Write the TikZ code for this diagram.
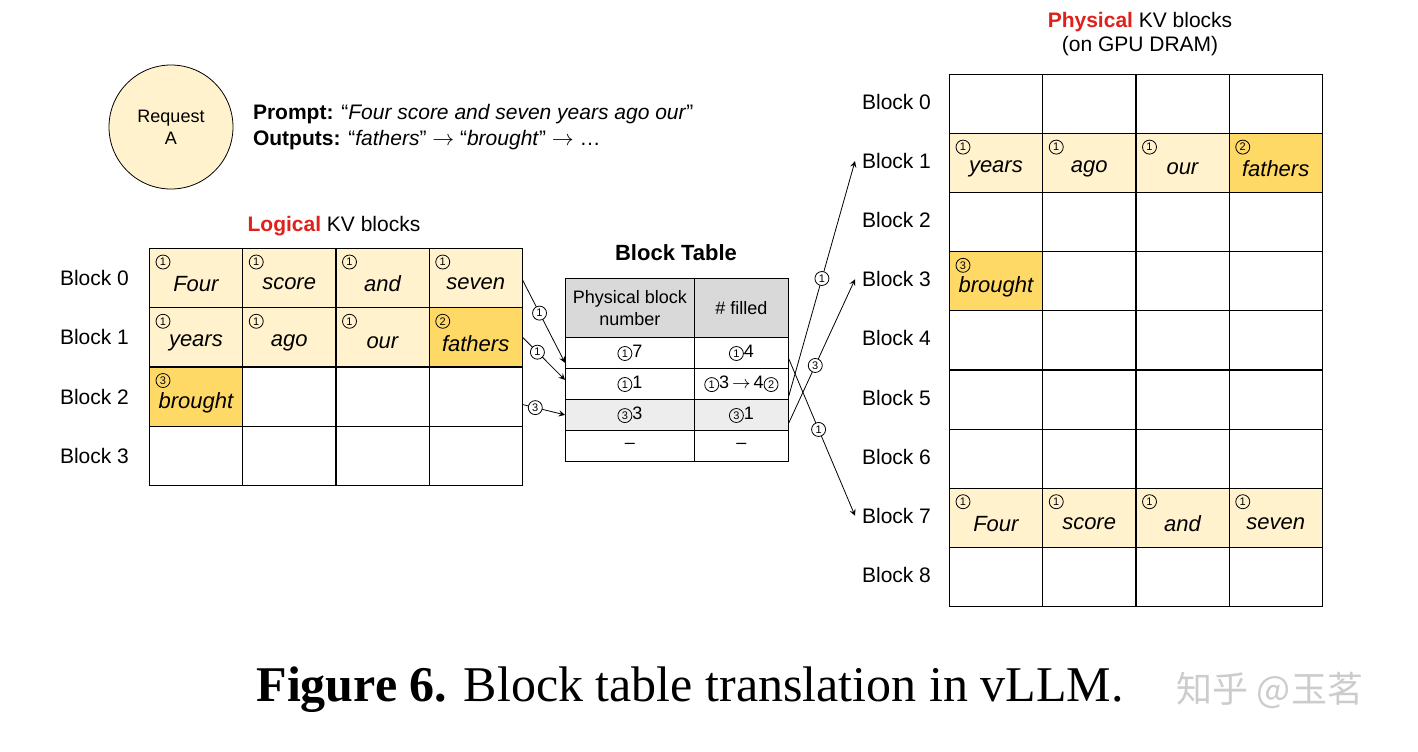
\documentclass[tikz,border=0pt]{standalone}
\usepackage{fontspec}
\setsansfont{Liberation Sans}
\newfontfamily\cjk{Noto Sans CJK SC}
\newfontfamily\capfont{Liberation Serif}
\usepackage{tikz}
\usetikzlibrary{positioning}
\definecolor{lightgold}{HTML}{FFF2CC}
\definecolor{gold}{HTML}{FFD966}
\definecolor{hdrgray}{HTML}{D9D9D9}
\definecolor{rowgray}{HTML}{EDEDED}
\definecolor{redword}{HTML}{E0201B}
\newcommand\cn[1]{\tikz[baseline=(c.base)]\node[num](c){#1};}
\begin{document}
\begin{tikzpicture}[x=0.5pt,y=-0.5pt,
  every node/.style={font=\sffamily\fontsize{10.5}{12}\selectfont},
  cell/.style={draw, minimum width=46.5pt, minimum height=29.5pt, inner sep=0pt, anchor=north west},
  word/.style={font=\sffamily\itshape\fontsize{11}{12}\selectfont},
  num/.style={circle, draw, inner sep=0.3pt, minimum size=7pt, font=\sffamily\fontsize{5.5}{6}\selectfont},
  tcell/.style={draw, inner sep=0pt, anchor=north west, align=center, font=\sffamily\fontsize{9}{11}\selectfont},
  lbl/.style={anchor=east},
  >=stealth]
\useasboundingbox (0,0) rectangle (1418,751);
% request
\node[circle, draw, fill=lightgold, minimum size=62pt, align=center, font=\sffamily\fontsize{9}{11}\selectfont] (req) at (171,127) {Request\\A};
\node[anchor=west, align=left, font=\sffamily\fontsize{10.5}{13}\selectfont] (prompt) at (246,127)
  {\textbf{Prompt:} ``\textit{Four score and seven years ago our}''\\
   \textbf{Outputs:} ``\textit{fathers}'' $\rightarrow$ ``\textit{brought}'' $\rightarrow$ \dots};
% logical KV blocks
\node (ltitle) at (334,226) {\textbf{\color{redword}Logical} KV blocks};
\foreach \r in {0,...,3} {
  \foreach \c in {0,...,3}
    \node[cell] (l-\r-\c) at (149+93.25*\c, 248+59.25*\r) {};
  \node[lbl] at (136, 278+59.25*\r) {Block \r};
}
\foreach \r/\c/\w/\n/\f in {0/0/Four/1/lightgold, 0/1/score/1/lightgold, 0/2/and/1/lightgold, 0/3/seven/1/lightgold,
  1/0/years/1/lightgold, 1/1/ago/1/lightgold, 1/2/our/1/lightgold, 1/3/fathers/2/gold, 2/0/brought/3/gold} {
  \node[cell, fill=\f] at (l-\r-\c.north west) {};
  \node[word] at ([yshift=-3pt]l-\r-\c.center) {\w};
  \node[num] at ([xshift=7pt,yshift=-7pt]l-\r-\c.north west) {\n};
}
% block table
\node[font=\sffamily\bfseries\fontsize{11}{12}\selectfont] (ttitle) at (676,253) {Block Table};
\node[tcell, fill=hdrgray, minimum width=64.5pt, minimum height=29.5pt] (h-0) at (565,278) {Physical block\\number};
\node[tcell, fill=hdrgray, minimum width=47pt, minimum height=29.5pt] (h-1) at (694,278) {\# filled};
\foreach \r/\a/\b/\f in {0/{\cn{1}7}/{\cn{1}4}/white,
  1/{\cn{1}1}/{\cn{1}3\,$\rightarrow$\,4\cn{2}}/white,
  2/{\cn{3}3}/{\cn{3}1}/rowgray, 3/{--}/{--}/white} {
  \node[tcell, fill=\f, minimum width=64.5pt, minimum height=15.5pt] (t-\r-0) at (565,337+31*\r) {\a};
  \node[tcell, fill=\f, minimum width=47pt, minimum height=15.5pt] (t-\r-1) at (694,337+31*\r) {\b};
}
% physical KV blocks
\node[align=center] (ptitle) at (1140,34) {\textbf{\color{redword}Physical} KV blocks\\(on GPU DRAM)};
\foreach \r in {0,...,8} {
  \foreach \c in {0,...,3}
    \node[cell] (p-\r-\c) at (949+93.25*\c, 74+59.1*\r) {};
  \node[lbl] (pb-\r) at (938, 102+59.1*\r) {Block \r};
}
\foreach \r/\c/\w/\n/\f in {7/0/Four/1/lightgold, 7/1/score/1/lightgold, 7/2/and/1/lightgold, 7/3/seven/1/lightgold,
  1/0/years/1/lightgold, 1/1/ago/1/lightgold, 1/2/our/1/lightgold, 1/3/fathers/2/gold, 3/0/brought/3/gold} {
  \node[cell, fill=\f] at (p-\r-\c.north west) {};
  \node[word] at ([yshift=-3pt]p-\r-\c.center) {\w};
  \node[num] at ([xshift=7pt,yshift=-7pt]p-\r-\c.north west) {\n};
}
% logical -> table
\draw[->] ([yshift=-16pt]l-0-3.north east) -- node[num, fill=white, pos=0.4] {1} ([yshift=3pt]t-0-0.south west);
\draw[->] ([yshift=-15pt]l-1-3.north east) -- node[num, fill=white, pos=0.35] {1} ([yshift=2pt]t-1-0.west);
\draw[->] ([yshift=-19pt]l-2-3.north east) -- node[num, fill=white, pos=0.3] {3} (t-2-0.west);
% table -> physical
\draw[->] ([yshift=-3pt]t-0-1.east) -- node[num, fill=white, pos=0.45] {1} (pb-7.west);
\draw[->] ([yshift=-6pt]t-1-1.east) -- node[num, fill=white, pos=0.5] {1} (pb-1.west);
\draw[->] ([yshift=-4pt]t-2-1.east) -- node[num, fill=white, pos=0.4] {3} (pb-3.west);
% caption
\node[font=\capfont\fontsize{25}{28}\selectfont] (cap) at (690,690) {\textbf{Figure 6.} Block table translation in vLLM.};
\node[font=\cjk\fontsize{18}{20}\selectfont, text=gray!40] (wm) at (1270,690) {知乎 @玉茗};
\end{tikzpicture}
\end{document}
